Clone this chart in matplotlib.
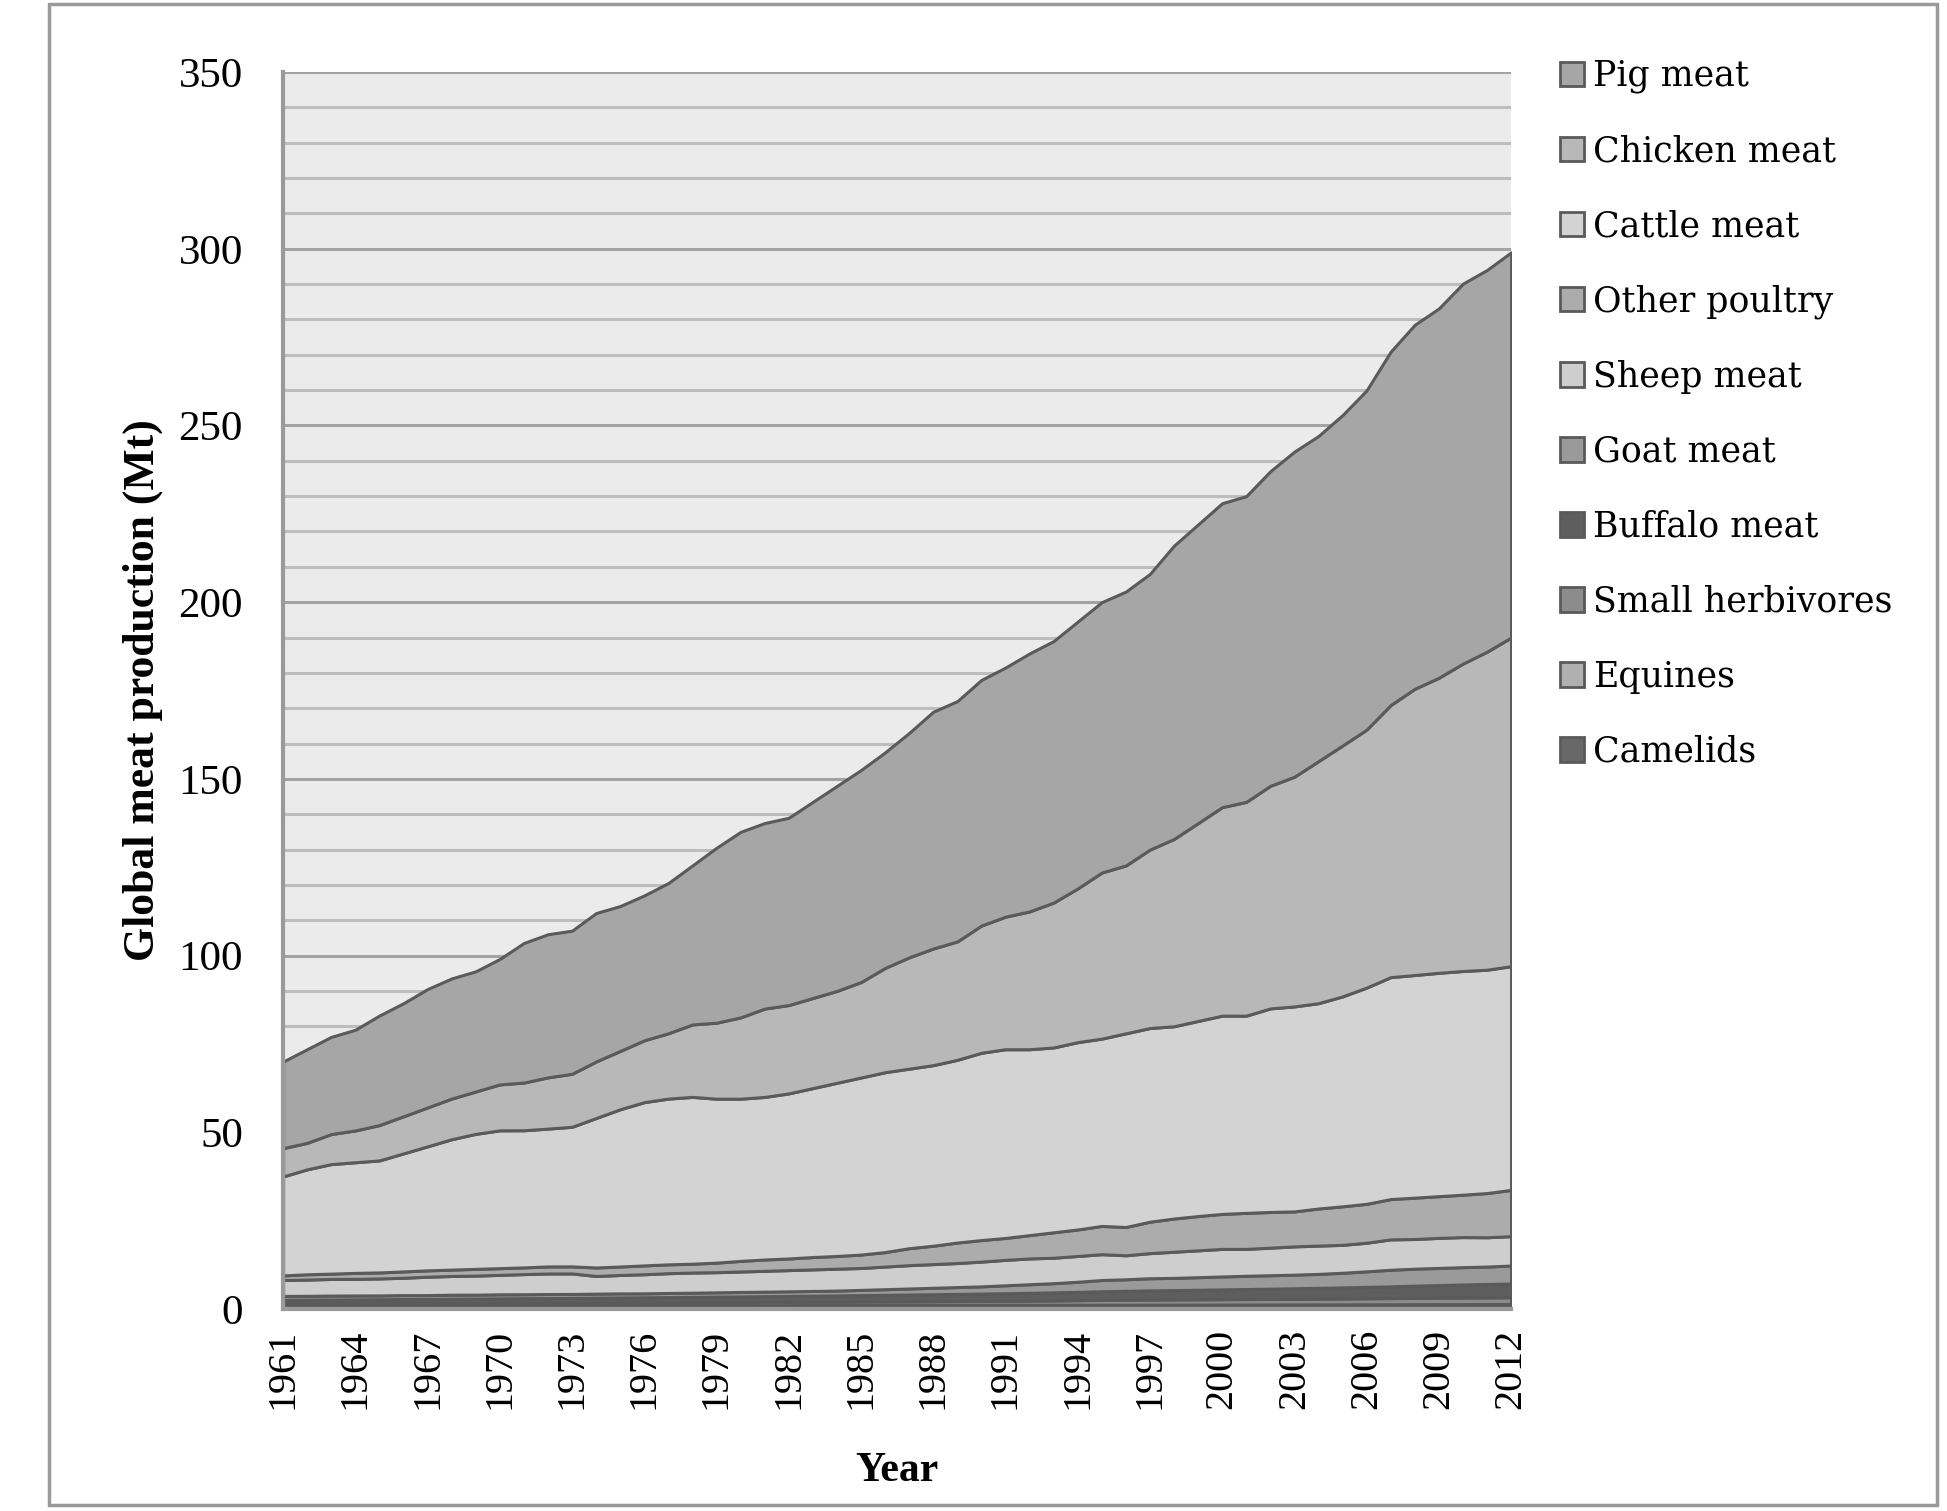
import matplotlib
matplotlib.use("Agg")
import matplotlib.pyplot as plt
from matplotlib.patches import Rectangle
import numpy as np

years = list(range(1961, 2013))

# values in Mt (bottom layer first)
camelids = [0.30, 0.30, 0.31, 0.31, 0.32, 0.32, 0.33, 0.33, 0.34, 0.34,
            0.35, 0.35, 0.36, 0.36, 0.37, 0.37, 0.38, 0.38, 0.39, 0.39,
            0.40, 0.40, 0.41, 0.41, 0.42, 0.42, 0.43, 0.43, 0.44, 0.44,
            0.45, 0.45, 0.45, 0.45, 0.46, 0.46, 0.47, 0.47, 0.48, 0.48,
            0.49, 0.50, 0.51, 0.52, 0.53, 0.54, 0.55, 0.56, 0.57, 0.58,
            0.59, 0.60]
equines = [0.60, 0.61, 0.61, 0.62, 0.62, 0.63, 0.63, 0.64, 0.64, 0.65,
           0.65, 0.66, 0.66, 0.67, 0.67, 0.68, 0.68, 0.69, 0.69, 0.70,
           0.70, 0.70, 0.71, 0.71, 0.72, 0.72, 0.73, 0.73, 0.74, 0.74,
           0.75, 0.75, 0.75, 0.74, 0.75, 0.75, 0.76, 0.76, 0.76, 0.77,
           0.77, 0.77, 0.78, 0.78, 0.78, 0.79, 0.79, 0.80, 0.80, 0.80,
           0.80, 0.81]
small_herb = [0.60, 0.61, 0.62, 0.63, 0.64, 0.66, 0.67, 0.68, 0.70, 0.71,
              0.73, 0.74, 0.76, 0.77, 0.79, 0.80, 0.82, 0.84, 0.85, 0.87,
              0.89, 0.91, 0.93, 0.95, 0.97, 0.99, 1.01, 1.04, 1.06, 1.08,
              1.11, 1.16, 1.22, 1.30, 1.38, 1.42, 1.45, 1.48, 1.50, 1.53,
              1.56, 1.58, 1.60, 1.63, 1.66, 1.70, 1.74, 1.78, 1.82, 1.85,
              1.88, 1.90]
buffalo = [1.10, 1.12, 1.14, 1.16, 1.18, 1.20, 1.22, 1.25, 1.27, 1.30,
           1.32, 1.35, 1.37, 1.40, 1.43, 1.46, 1.49, 1.52, 1.56, 1.60,
           1.64, 1.68, 1.72, 1.77, 1.82, 1.87, 1.92, 1.97, 2.03, 2.09,
           2.15, 2.21, 2.28, 2.35, 2.43, 2.51, 2.58, 2.64, 2.70, 2.76,
           2.83, 2.90, 2.97, 3.05, 3.13, 3.22, 3.32, 3.46, 3.58, 3.71,
           3.81, 3.89]
goat = [1.10, 1.08, 1.12, 1.10, 1.08, 1.12, 1.08, 1.14, 1.10, 1.15,
        1.12, 1.14, 1.10, 1.14, 1.16, 1.12, 1.16, 1.18, 1.22, 1.25,
        1.27, 1.31, 1.33, 1.36, 1.47, 1.60, 1.71, 1.83, 1.93, 2.05,
        2.24, 2.43, 2.60, 2.86, 3.18, 3.26, 3.44, 3.45, 3.56, 3.66,
        3.75, 3.80, 3.85, 3.95, 4.15, 4.40, 4.70, 4.80, 4.85, 4.90,
        4.92, 5.10]
sheep = [4.5, 4.6, 4.7, 4.7, 4.8, 4.9, 5.2, 5.3, 5.4, 5.5,
         5.7, 5.8, 5.8, 5.0, 5.2, 5.4, 5.6, 5.7, 5.7, 5.8,
         5.9, 6.0, 6.1, 6.2, 6.2, 6.4, 6.6, 6.7, 6.8, 7.0,
         7.2, 7.3, 7.2, 7.3, 7.3, 6.8, 7.1, 7.4, 7.6, 7.8,
         7.6, 7.8, 8.0, 8.0, 7.9, 8.1, 8.6, 8.4, 8.5, 8.5,
         8.3, 8.3]
other_poultry = [1.3, 1.5, 1.5, 1.7, 1.7, 1.8, 1.8, 1.8, 1.9, 1.9,
                 1.9, 2.0, 2.0, 2.4, 2.4, 2.5, 2.5, 2.5, 2.7, 3.0,
                 3.2, 3.3, 3.5, 3.6, 3.8, 4.1, 4.8, 5.2, 5.8, 6.1,
                 6.2, 6.6, 7.2, 7.5, 8.0, 8.0, 8.9, 9.4, 9.7, 9.9,
                 10.2, 10.1, 9.9, 10.5, 10.9, 11.0, 11.4, 11.7, 11.8, 12.0,
                 12.5, 13.1]
cattle = [28.0, 29.7, 31.0, 31.3, 31.7, 33.4, 35.1, 36.9, 38.2, 39.0,
          38.8, 39.0, 39.5, 42.3, 44.5, 46.2, 46.9, 47.2, 46.4, 45.9,
          46.0, 46.7, 47.8, 49.0, 50.1, 50.9, 50.8, 51.1, 51.7, 53.0,
          53.4, 52.6, 52.3, 53.0, 53.0, 54.8, 54.8, 54.4, 55.2, 56.1,
          55.8, 57.6, 58.0, 58.1, 59.4, 61.2, 62.8, 63.0, 63.2, 63.3,
          63.2, 63.3]
chicken = [8.0, 7.5, 8.5, 9.0, 10.0, 10.5, 11.0, 11.5, 12.0, 13.0,
           13.5, 14.5, 15.0, 16.0, 16.5, 17.5, 18.5, 20.5, 21.5, 23.0,
           25.0, 25.0, 25.5, 26.0, 27.0, 29.5, 31.5, 33.0, 33.5, 36.0,
           37.5, 39.0, 41.0, 43.5, 47.0, 47.5, 50.5, 53.0, 56.0, 59.0,
           60.5, 63.0, 65.0, 68.5, 71.0, 73.0, 77.0, 81.0, 83.5, 87.0,
           90.0, 93.0]
pig = [24.5, 26.5, 27.5, 28.5, 31.0, 32.0, 33.5, 34.0, 34.0, 35.5,
       39.5, 40.5, 40.5, 42.0, 41.0, 41.0, 42.5, 45.0, 49.5, 52.5,
       52.5, 53.0, 55.5, 58.0, 60.0, 61.0, 63.5, 67.0, 68.0, 69.5,
       70.5, 73.0, 74.0, 75.5, 76.5, 77.5, 78.0, 83.0, 84.5, 86.0,
       86.5, 89.0, 92.0, 92.0, 93.5, 96.0, 100.0, 103.0, 104.5, 107.5,
       108.0, 109.0]

labels = ["Camelids", "Equines", "Small herbivores", "Buffalo meat", "Goat meat",
          "Sheep meat", "Other poultry", "Cattle meat", "Chicken meat", "Pig meat"]
colors = ["#686868", "#b0b0b0", "#8c8c8c", "#5e5e5e", "#9a9a9a",
          "#cecece", "#acacac", "#d3d3d3", "#b8b8b8", "#a6a6a6"]
series = [camelids, equines, small_herb, buffalo, goat,
          sheep, other_poultry, cattle, chicken, pig]

fig = plt.figure(figsize=(19.47, 15.11), dpi=100)
ax = fig.add_axes([0.1454, 0.1337, 0.6307, 0.8186])
ax.set_facecolor("#ebebeb")

polys = ax.stackplot(years, *series, labels=labels, colors=colors,
                     edgecolor="#5a5a5a", linewidth=2.2, zorder=3)

ax.set_xlim(1961, 2012)
ax.set_ylim(0, 350)
ax.set_yticks(range(0, 351, 50))
ax.set_yticks(range(0, 351, 10), minor=True)
ax.set_xticks(years[::3])
ax.grid(axis="y", which="minor", color="#bdbdbd", linewidth=2.2, zorder=1)
ax.grid(axis="y", which="major", color="#a3a3a3", linewidth=2.2, zorder=1)
ax.set_axisbelow(True)

for s in ["top", "right"]:
    ax.spines[s].set_visible(False)
for s in ["left", "bottom"]:
    ax.spines[s].set_color("#9a9a9a")
    ax.spines[s].set_linewidth(3)
    ax.spines[s].set_zorder(4)

ax.tick_params(axis="both", which="both", length=0)
ax.tick_params(axis="y", pad=29)
ax.tick_params(axis="x", pad=14.5)
for t in ax.get_yticklabels():
    t.set_fontfamily("Liberation Serif")
    t.set_fontsize(31)
for t in ax.get_xticklabels():
    t.set_fontfamily("Liberation Serif")
    t.set_fontsize(29)
    t.set_rotation(90)

ax.set_ylabel("Global meat production (Mt)", fontfamily="Liberation Serif",
              fontweight="bold", fontsize=31.5)
ax.yaxis.set_label_coords(-0.098, 0.5)
ax.set_xlabel("Year", fontfamily="Liberation Serif", fontweight="bold", fontsize=30)
ax.xaxis.set_label_coords(0.5, -0.116)
ax.xaxis.label.set_va("top")

handles = polys[::-1]
leg = fig.legend(handles, labels[::-1], loc="upper left",
                 bbox_to_anchor=(1542.5 / 1947, 1 - 41.5 / 1511),
                 frameon=False, handlelength=0.7, handleheight=0.7,
                 handletextpad=0.25, labelspacing=1.18, borderpad=0,
                 prop={"family": "DejaVu Serif", "size": 25})
for h in leg.legend_handles:
    h.set_edgecolor("#5a5a5a")
    h.set_linewidth(2)

fig.patches.append(Rectangle((49 / 1947, 1 - 1505 / 1511), 1888 / 1947, 1501 / 1511,
                             transform=fig.transFigure, fill=False,
                             edgecolor="#9a9a9a", linewidth=2.5))

fig.savefig("out.png", dpi=100)
